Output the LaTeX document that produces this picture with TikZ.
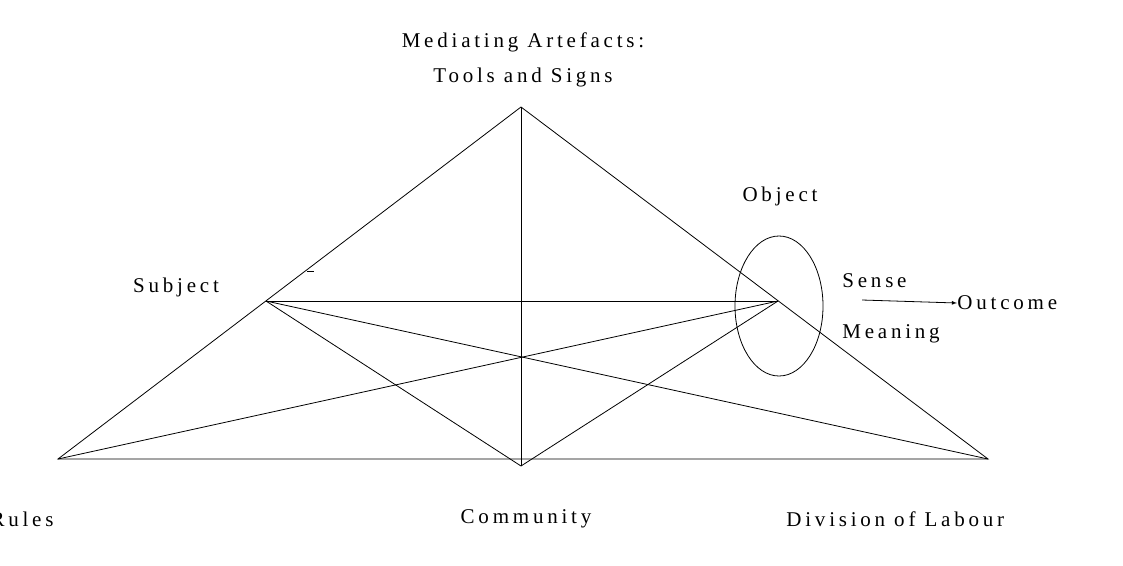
\documentclass[tikz,border=0pt]{standalone}
\usepackage{fontspec}
\usetikzlibrary{shapes.geometric}
\setmainfont[LetterSpace=18]{Liberation Serif}
\begin{document}
\begin{tikzpicture}[x=1pt,y=-1pt,line width=0.8pt,
  lbl/.style={font=\fontsize{21}{24}\selectfont,inner sep=0pt}]
\useasboundingbox (0,0) rectangle (1123,565);
\clip (0,0) rectangle (1123,565);
\coordinate (A) at (521,107);
\coordinate (L) at (58,459);
\coordinate (R) at (988,459);
\coordinate (C) at (521,466);
\coordinate (S) at (266,301);
\coordinate (O) at (778,301);
\draw (A) -- (L) -- (R) -- cycle;
\draw (A) -- (C);
\draw (S) -- (O);
\draw (S) -- (R);
\draw (S) -- (C) -- (O);
\draw (O) -- (L);
\draw (307,271) -- (314,271);
\node[draw,ellipse,minimum width=88,minimum height=140,inner sep=0pt] (E) at (779,306) {};
\node[lbl] (t1) at (523,42) {Mediating Artefacts:};
\node[lbl] (t2) at (523,77) {Tools and Signs};
\node[lbl] (ob) at (780,196) {Object};
\node[lbl] (su) at (176,287) {Subject};
\node[lbl,anchor=west] (se) at (842,281) {Sense};
\node[lbl,anchor=west] (me) at (842,334) {Meaning};
\node[lbl,anchor=west] (ou) at (957,303) {Outcome};
\draw[-latex] (862,300) -- (ou.west);
\node[lbl] (ru) at (22,519) {Rules};
\node[lbl] (co) at (526,519) {Community};
\node[lbl,anchor=west] (dl) at (786,519) {Division of Labour};
\end{tikzpicture}
\end{document}
